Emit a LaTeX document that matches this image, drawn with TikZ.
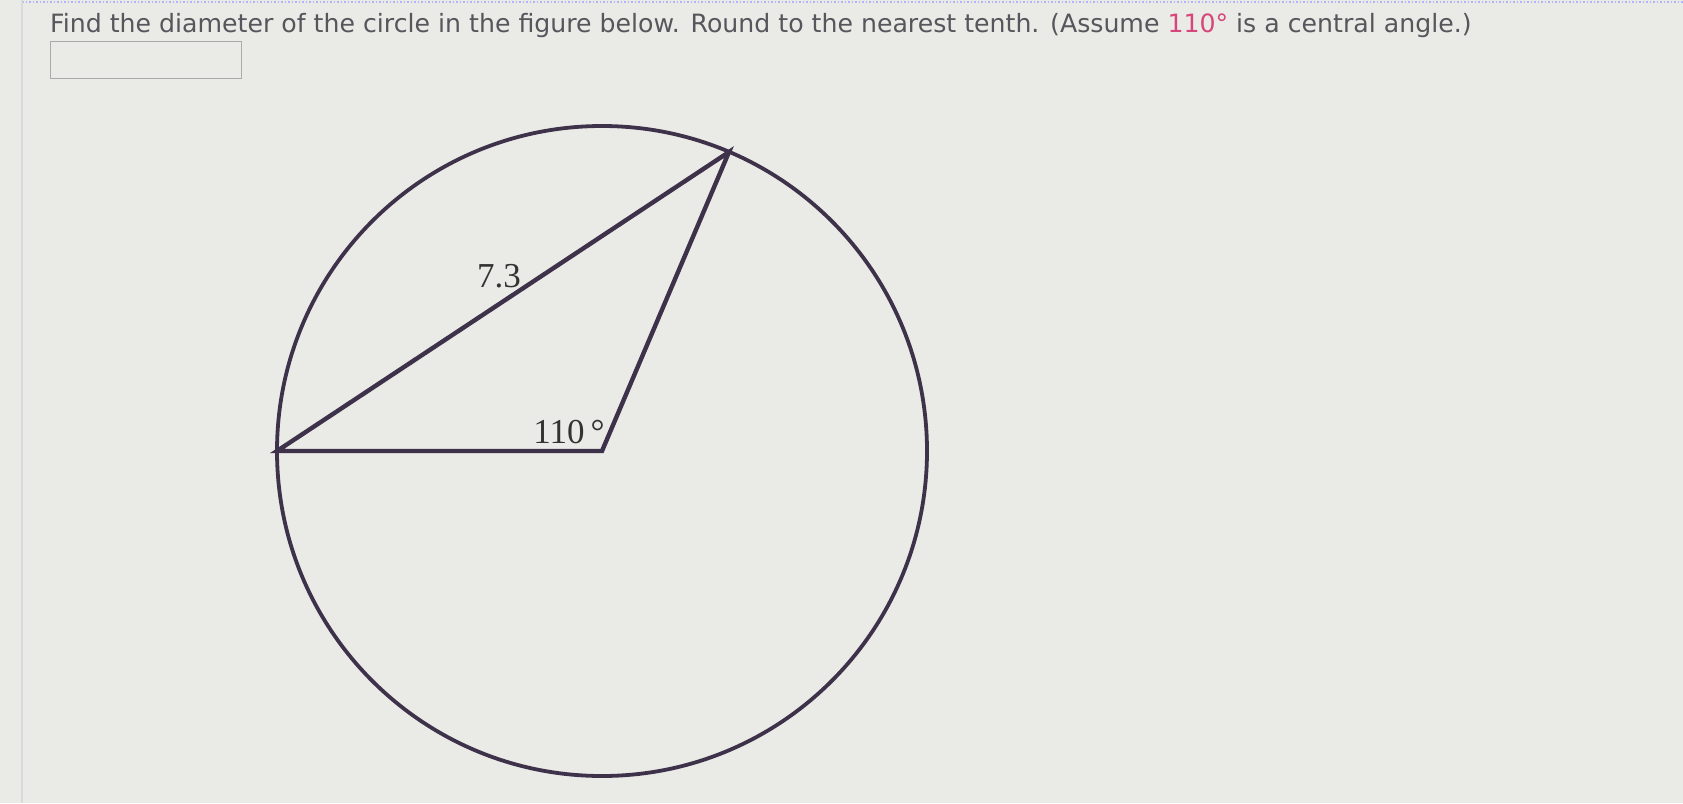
\documentclass[tikz,border=0pt]{standalone}
\usepackage{fontspec}
\setmainfont{Liberation Serif}
\newfontfamily\questionfont{DejaVu Sans}
\usetikzlibrary{positioning}
\definecolor{pagegray}{RGB}{234,234,230}
\definecolor{inkpurple}{RGB}{62,50,74}
\definecolor{textgray}{RGB}{86,86,92}
\definecolor{anglepink}{RGB}{214,70,122}
\definecolor{boxgray}{RGB}{170,170,170}

\begin{document}
\begin{tikzpicture}[x=1pt,y=1pt,yscale=-1,xscale=1]
  \tikzstyle{circleline} = [inkpurple,line width=3.8pt]
  \tikzstyle{figline} = [inkpurple,line width=4.4pt,line join=miter]
  \tikzstyle{figlabel} = [inner sep=0.75pt,text=black!80,font=\fontsize{35}{40}\selectfont]
  \useasboundingbox (0,0) rectangle (1683,803);
  %Draw the page
  \fill[pagegray] (0,0) rectangle (1683,803);
  \draw[blue!30,dotted,line width=1.5pt] (22,2) -- (1683,2);
  \draw[gray!30,line width=1.2pt] (22,0) -- (22,803);
  %Question and answer box
  \node (question) [anchor=west,inner sep=0pt,text=textgray,font=\questionfont\fontsize{25.2}{30}\selectfont] at (50,25.5)
    {Find the diameter of the circle in the figure below. Round to the nearest tenth. (Assume {\color{anglepink}110°} is a central angle.)};
  \node (answer) [draw=boxgray,line width=1.2pt,anchor=north west,minimum width=191pt,minimum height=37pt,inner sep=0pt] at (50,41) {};
  %Points of the figure
  \coordinate (O) at (602,451);
  \coordinate (A) at (277,451);
  \coordinate (B) at (729,152);
  %Draw circle
  \draw[circleline] (O) circle (325pt);
  %Draw triangle
  \draw[figline] (A) -- (B) -- (O) -- cycle;
  % Label the sides and angle
  \node (side) [figlabel] at (499,276) {7.3};
  \node (angle) [figlabel] at (569,432) {110\,°};
\end{tikzpicture}
\end{document}
